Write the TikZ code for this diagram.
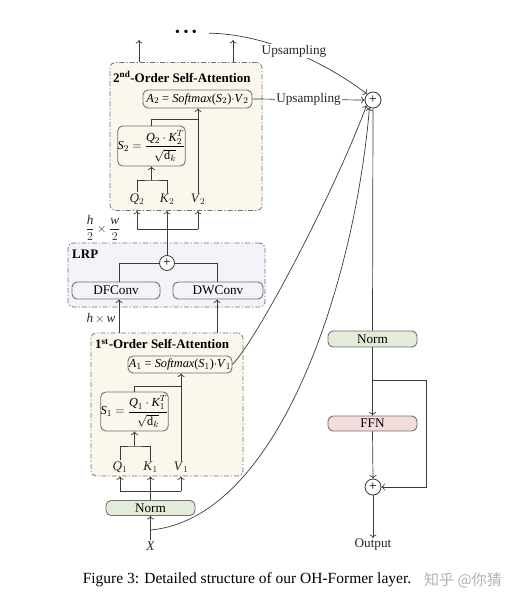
\documentclass[tikz,border=0pt]{standalone}
\usepackage{fontspec}
\setmainfont{Liberation Serif}
\newfontfamily\cjk{Noto Sans CJK SC}
\usetikzlibrary{arrows.meta}
\definecolor{ln}{HTML}{3A3A3A}
\definecolor{bd}{HTML}{707070}
\definecolor{creamfill}{HTML}{FCF7EC}
\definecolor{lavfill}{HTML}{F5F2FA}
\definecolor{greenfill}{HTML}{E3EBD9}
\definecolor{pinkfill}{HTML}{F4DCDC}
\newcommand{\mi}[1]{\textit{#1}}
\newcommand{\numgap}{\rule[-2.5pt]{0pt}{0pt}}
\newcommand{\dengap}{\rule{0pt}{12pt}}
\begin{document}
\begin{tikzpicture}[x=1pt,y=-1pt,
  lab/.style={font=\fontsize{13.2}{15}\selectfont, inner sep=1pt, text=black!85},
  ttl/.style={font=\fontsize{13}{15}\selectfont\bfseries, inner sep=0pt, anchor=west},
  grpbox/.style={draw=bd, line width=0.8pt, rounded corners=5pt, dash pattern=on 5pt off 2pt on 1.2pt off 2pt},
  fbox/.style={draw=bd, line width=0.9pt, rounded corners=5pt, inner sep=0pt, font=\fontsize{13.2}{15}\selectfont},
  fml/.style={fbox, font=\fontsize{12.3}{14}\selectfont},
  sumnode/.style={draw=ln, line width=0.8pt, circle, inner sep=0pt, font=\fontsize{13.5}{14}\selectfont},
  conn/.style={draw=ln, line width=0.7pt},
  arr/.style={conn, -{To[length=3.5pt,width=7pt]}},
]
\useasboundingbox (0,0) rectangle (519,607);

% ---------- 2nd order self-attention ----------
\node[grpbox, fill=creamfill, minimum width=152pt, minimum height=148pt] (box2) at (186,136.5) {};
\node[ttl] (t2) at (113,77) {2\textsuperscript{nd}-Order Self-Attention};
\node[fml, minimum width=109pt, minimum height=18pt] (a2) at (197.5,99) {\mi{A}$_2$ = \mi{Softmax}(\mi{S}$_2$)$\cdot$\mi{V}$_2$};
\node[fml, minimum width=65pt, minimum height=40pt] (s2) at (151.5,146) {\mi{S}$_2=\displaystyle\frac{\mi{Q}_2\cdot \mi{K}^{T}_{2}\numgap}{\dengap\sqrt{\mathrm{d}_k}}$};
\node[lab] (q2) at (137,199) {\mi{Q}$_2$};
\node[lab] (k2) at (167,199) {\mi{K}$_2$};
\node[lab] (v2) at (198,199) {\mi{V}$_2$};
\coordinate (j2) at (151.5,180);
\coordinate (m2) at (198,119);
\draw[conn] (q2.north) |- (j2) -| (k2.north);
\draw[arr] (j2) -- (s2.south);
\draw[conn] (s2.north) |- (m2);
\draw[arr] (v2.north) -- (v2.north |- a2.south);

% arrows out of the top
\coordinate (o1) at (139,62);
\coordinate (o2) at (233,62);
\draw[arr] (o1) -- ++(0,-22);
\draw[arr] (o2) -- ++(0,-22);
\node[font=\fontsize{14}{14}\selectfont, inner sep=0pt] (dots) at (186,33) {\textbullet\ \textbullet\ \textbullet};

% input split to 2nd order
\node[lab] (hw2) at (103,228) {$\displaystyle\frac{\mi{h}}{2}\times\frac{\mi{w}}{2}$};
\coordinate (bq2) at (137,229);
\coordinate (bv2) at (198,229);
\draw[conn] (bq2) -- (bv2);
\draw[arr] (bq2) -- (bq2 |- box2.south);
\draw[arr] (bv2) -- (bv2 |- box2.south);

% ---------- LRP ----------
\node[grpbox, fill=lavfill, minimum width=197pt, minimum height=64pt] (lrp) at (166.5,275) {};
\node[ttl] (tl) at (72,254) {LRP};
\node[sumnode, fill=white, minimum size=15pt] (lp) at (167,263) {+};
\node[fbox, fill=lavfill, minimum width=88pt, minimum height=17pt] (dfc) at (116,290.5) {DFConv};
\node[fbox, fill=lavfill, minimum width=90pt, minimum height=17pt] (dwc) at (218,290.5) {DWConv};
\draw[conn] ([xshift=3pt]dfc.north) |- (lp.west);
\draw[conn] ([xshift=-1pt]dwc.north) |- (lp.east);
\draw[arr] (lp.north) -- (lp.north |- box2.south);

% ---------- 1st order self-attention ----------
\node[grpbox, fill=creamfill, minimum width=152pt, minimum height=143pt] (box1) at (167,404.5) {};
\node[ttl] (t1) at (95,344) {1\textsuperscript{st}-Order Self-Attention};
\node[fml, minimum width=104pt, minimum height=17pt] (a1) at (180,364.5) {\mi{A}$_1$ = \mi{Softmax}(\mi{S}$_1$)$\cdot$\mi{V}$_1$};
\node[fml, minimum width=65pt, minimum height=39pt] (s1) at (134.5,411.5) {\mi{S}$_1=\displaystyle\frac{\mi{Q}_1\cdot \mi{K}^{T}_{1}\numgap}{\dengap\sqrt{\mathrm{d}_k}}$};
\node[lab] (q1) at (120,467) {\mi{Q}$_1$};
\node[lab] (k1) at (150.5,467) {\mi{K}$_1$};
\node[lab] (v1) at (181,467) {\mi{V}$_1$};
\coordinate (j1) at (134.5,446);
\coordinate (m1) at (181,386);
\draw[conn] (q1.north) |- (j1) -| (k1.north);
\draw[arr] (j1) -- (s1.south);
\draw[conn] (s1.north) |- (m1);
\draw[arr] (v1.north) -- (v1.north |- a1.south);

% 1st order to LRP
\node[lab] (hw1) at (101,318) {\mi{h}$\,\times\,$\mi{w}};
\draw[arr] ([xshift=3pt]dfc.south |- box1.north) -- ([xshift=3pt]dfc.south);
\draw[arr] ([xshift=-1pt]dwc.south |- box1.north) -- ([xshift=-1pt]dwc.south);

% norm and input
\node[fbox, fill=greenfill, minimum width=89pt, minimum height=15pt] (n1) at (150.5,508) {Norm};
\node[lab] (x) at (150.5,546) {\mi{X}};
\coordinate (bq1) at (120,491);
\coordinate (bv1) at (181,491);
\draw[conn] (bq1) -- (bv1);
\draw[arr] (bq1) -- (bq1 |- box1.south);
\draw[arr] (bv1) -- (bv1 |- box1.south);
\draw[arr] (n1.north) -- (n1.north |- box1.south);
\draw[arr] (x.north) -- (n1.south);
\coordinate (xc) at (150.5,530);

% ---------- right column ----------
\node[sumnode, fill=white, minimum size=16pt] (p1) at (373,100) {+};
\node[fbox, fill=greenfill, minimum width=89pt, minimum height=16pt] (n2) at (372.5,339) {Norm};
\node[fbox, fill=pinkfill, minimum width=89pt, minimum height=15pt] (ffn) at (372.5,423.5) {FFN};
\node[sumnode, fill=white, minimum size=16pt] (p2) at (373,487) {+};
\node[lab] (out) at (373,545) {Output};
\coordinate (br) at (373,380);
\coordinate (br2) at (426,380);
\draw[conn] (p1.south) -- (n2.north);
\draw[arr] (n2.south) -- (ffn.north);
\draw[arr] (br) -- (br2) |- (p2.east);
\draw[arr] (ffn.south) -- (p2.north);
\draw[arr] (p2.south) -- (out.north);

% connectors into top sum
\draw[arr] (a2.east) -- node[lab, fill=white] (up2) {Upsampling} (p1.west);
\draw[arr, shorten <=12pt] (dots.east) .. controls (265,34) and (325,62) .. (p1.135);
\node[lab, fill=white] (up1) at (294,51) {Upsampling};
\draw[arr] (a1.east) .. controls (260,335) and (335,190) .. (p1.220);
\draw[arr] (xc) .. controls (280,518) and (355,280) .. (p1.245);

% caption
\node[font=\fontsize{15.5}{18}\selectfont, inner sep=0pt] (cap) at (247,580) {Figure 3: Detailed structure of our OH-Former layer.};
\node[font=\cjk\fontsize{15}{18}\selectfont, text=black!30, inner sep=0pt] (wm) at (463,580) {知乎 @你猜};
\end{tikzpicture}
\end{document}
